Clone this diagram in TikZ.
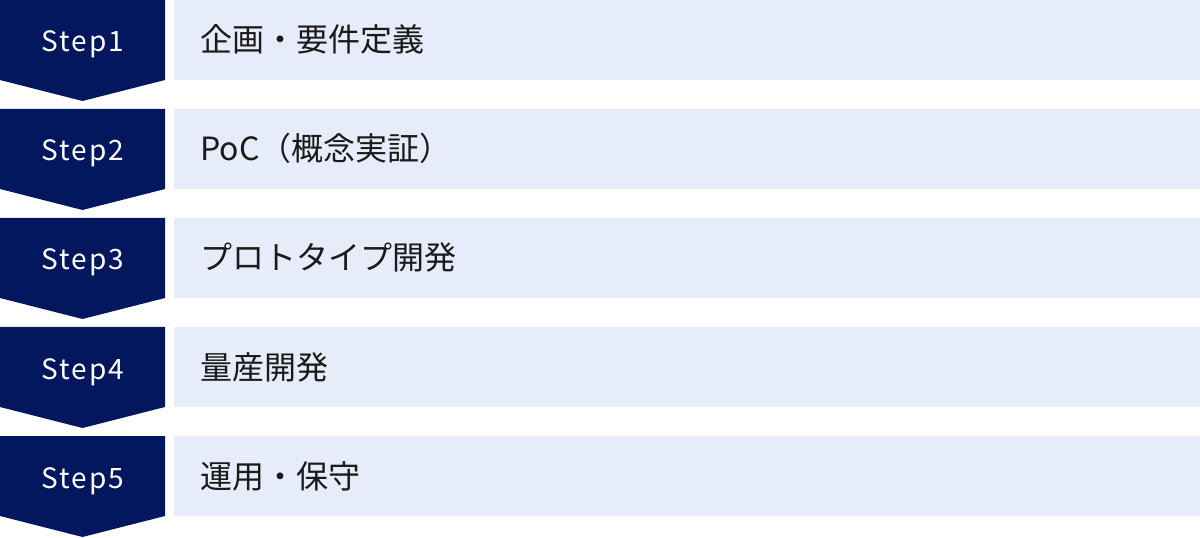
\documentclass[tikz,border=0pt]{standalone}
\usepackage{fontspec}
\setmainfont{Noto Sans CJK JP}
\newfontfamily\stepfont[LetterSpace=7]{Noto Sans CJK JP}
\definecolor{navy}{HTML}{03175F}
\definecolor{barbg}{HTML}{E6ECF9}
\definecolor{txt}{HTML}{1A1A1A}
\begin{document}
\begin{tikzpicture}[x=0.75pt,y=-0.75pt,
  steplabel/.style={text=white,font=\stepfont\fontsize{21}{24}\selectfont,anchor=base,inner sep=0pt},
  barlabel/.style={text=txt,font=\fontsize{24}{28}\selectfont,anchor=base west,inner sep=0pt}]
\useasboundingbox (0,0) rectangle (1200,538);
\foreach \i/\t in {1/企画・要件定義,2/PoC（概念実証）,3/プロトタイプ開発,4/量産開発,5/運用・保守}{
  \pgfmathsetmacro{\y}{(\i-1)*109}
  \fill[navy] (0,\y) -- (165,\y) -- (165,\y+80) -- (82.5,\y+101) -- (0,\y+80) -- cycle;
  \fill[barbg] (174,\y) rectangle (1200,\y+80);
  \node[steplabel] (s\i) at (83,\y+52) {Step\i};
  \node[barlabel] (b\i) at (200,\y+52) {\t};
}
\end{tikzpicture}
\end{document}
